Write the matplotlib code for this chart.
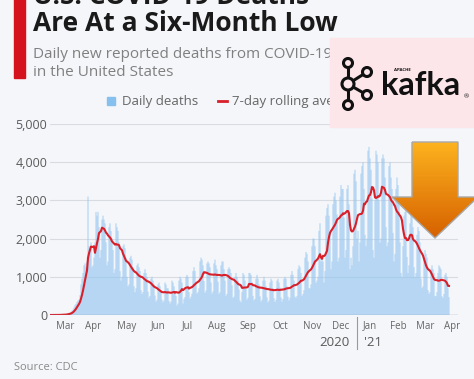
import numpy as np
import pandas as pd
import matplotlib.pyplot as plt
from matplotlib.patches import Rectangle, Circle, Polygon

plt.rcParams['font.family'] = ['Open Sans', 'DejaVu Sans']

## Data: daily new reported deaths, one row per week (Sun..Sat), from Sun 1 Mar 2020
daily_deaths = [
    0, 0, 1, 0, 1, 2, 1,
    2, 4, 5, 7, 9, 10, 12,
    14, 18, 26, 40, 50, 60, 70,
    110, 140, 200, 260, 290, 340, 380,
    400, 520, 800, 950, 1100, 1300, 1350,
    1250, 1400, 3100, 1800, 1750, 1900, 1250,
    1300, 1500, 1900, 2700, 2600, 2700, 2300,
    1500, 1700, 2500, 2600, 2500, 2400, 1900,
    1300, 1400, 2300, 2400, 2200, 2000, 1700,
    1100, 1200, 2400, 2300, 2200, 1900, 1150,
    900, 1000, 1800, 1850, 1750, 1500, 1000,
    750, 800, 1500, 1550, 1450, 1250, 750,
    600, 700, 1300, 1350, 1250, 1150, 650,
    550, 600, 1100, 1200, 1100, 1000, 610,
    450, 500, 950, 1000, 900, 800, 510,
    350, 400, 800, 850, 750, 650, 400,
    330, 380, 850, 800, 700, 700, 370,
    300, 350, 900, 850, 750, 550, 500,
    250, 300, 900, 1000, 950, 850, 300,
    420, 470, 1000, 1050, 1000, 600, 430,
    480, 560, 1150, 1250, 1150, 800, 560,
    600, 700, 1400, 1500, 1450, 1300, 890,
    580, 640, 1350, 1400, 1350, 1250, 850,
    560, 620, 1350, 1450, 1300, 1200, 870,
    550, 600, 1300, 1400, 1400, 1200, 900,
    500, 550, 1200, 1250, 1200, 1100, 780,
    450, 480, 1000, 1100, 1000, 900, 670,
    380, 330, 600, 1100, 1050, 900, 680,
    400, 450, 1100, 1100, 1050, 860, 500,
    380, 420, 950, 1050, 950, 800, 490,
    350, 400, 900, 1000, 900, 750, 460,
    330, 380, 850, 950, 900, 700, 440,
    340, 400, 900, 950, 850, 720, 460,
    350, 420, 950, 1000, 950, 750, 480,
    380, 450, 1050, 1150, 1050, 900, 480,
    450, 500, 1200, 1300, 1250, 1100, 500,
    550, 650, 1500, 1650, 1600, 1400, 700,
    700, 800, 1800, 2000, 2000, 1800, 840,
    900, 1000, 2200, 2400, 1400, 1550, 1400,
    850, 1150, 2600, 2800, 2900, 2600, 2150,
    1200, 1400, 2900, 3100, 3200, 3000, 2630,
    1400, 1500, 3100, 3400, 3300, 3300, 2550,
    1500, 1700, 3300, 3400, 2900, 1200, 1500,
    1300, 1800, 3700, 3800, 3500, 2000, 2200,
    1400, 1900, 3700, 3900, 4000, 3300, 2100,
    1800, 2000, 4300, 4400, 4100, 3800, 3050,
    1700, 1500, 3000, 4300, 4200, 4000, 3000,
    1900, 2000, 4100, 4200, 4100, 3600, 2300,
    1800, 1900, 3900, 4000, 3600, 3300, 2150,
    1400, 1600, 3300, 3600, 3400, 3000, 1900,
    1100, 1000, 1800, 2600, 2700, 3000, 1520,
    1100, 1300, 2400, 2700, 2600, 2300, 1250,
    1000, 1100, 2100, 2300, 2200, 1900, 950,
    700, 750, 1500, 1700, 1600, 1500, 650,
    550, 600, 1200, 1300, 1200, 1100, 490,
    500, 600, 1100, 1300, 1250, 1200, 490,
    450, 550, 1050, 1100, 1000, 700, 470,
]
month_labels = ['Mar', 'Apr', 'May', 'Jun', 'Jul', 'Aug', 'Sep', 'Oct',
                'Nov', 'Dec', 'Jan', 'Feb', 'Mar', 'Apr']
y_ticks = [0, 1000, 2000, 3000, 4000, 5000]

deaths = pd.Series(daily_deaths, dtype=float)
days = np.arange(len(deaths))
rolling = deaths.rolling(7, min_periods=1).mean()

## Figure
W, H = 474, 379
fig = plt.figure(figsize=(W / 100, H / 100), dpi=100)
bg = '#f4f6f9'
fig.patch.set_facecolor(bg)

ax = fig.add_axes([50 / W, (H - 315) / H, 408 / W, 191 / H], zorder=1)
ax.set_facecolor(bg)
# snap=False so the sub-pixel wide bars are not rounded away
ax.bar(days, deaths, width=0.8, color='#94c6f1', linewidth=0, snap=False, zorder=2)
ax.plot(days, rolling, color='#d9202a', lw=1.5, zorder=3)

ax.set_xlim(-1, 407)
ax.set_ylim(0, 5000)
ax.set_yticks(y_ticks)
ax.set_yticklabels([f'{v:,}' for v in y_ticks])
ax.grid(axis='y', color='#d8dce2', lw=0.8, zorder=0)
ax.axhline(0, color='#7f93a8', lw=0.9, zorder=4)
# month labels sit roughly mid-month
ax.set_xticks([14, 42, 76, 107, 136, 166, 197, 229, 261, 290, 319, 347, 374, 401])
ax.set_xticklabels(month_labels)
ax.tick_params(axis='x', length=0, pad=4, labelsize=7, labelcolor='#666666')
ax.tick_params(axis='y', length=0, pad=2, labelsize=9, labelcolor='#5a5a5a')
for s in ax.spines.values():
    s.set_visible(False)

## Overlay in pixel coordinates for titles and decorations
ov = fig.add_axes([0, 0, 1, 1], zorder=3)
ov.set_xlim(0, W)
ov.set_ylim(H, 0)
ov.axis('off')
ov.patch.set_alpha(0)

ov.add_patch(Rectangle((14, -2), 11, 80, color='#d5131f'))
ov.text(33, 4, 'U.S. COVID-19 Deaths', fontsize=19, fontweight='bold',
        color='#1a1a1a', va='baseline')
ov.text(33, 31, 'Are At a Six-Month Low', fontsize=19, fontweight='bold',
        color='#1a1a1a', va='baseline')
ov.text(33, 54, 'Daily new reported deaths from COVID-19', fontsize=11,
        color='#808080', va='center')
ov.text(33, 72, 'in the United States', fontsize=11, color='#808080', va='center')

# legend
ov.add_patch(Rectangle((107, 97), 8, 8, color='#86c0ef'))
ov.text(122, 101, 'Daily deaths', fontsize=9.5, color='#666666', va='center')
ov.plot([218, 227], [101, 101], color='#d9202a', lw=2)
ov.text(232, 101, '7-day rolling average', fontsize=9.5, color='#666666', va='center')

# year labels
ov.plot([357, 357], [317, 349], color='#9a9a9a', lw=0.8)
ov.text(350, 342, '2020', fontsize=9.5, color='#5a5a5a', ha='right', va='center')
ov.text(364, 342, "'21", fontsize=9.5, color='#5a5a5a', ha='left', va='center')
ov.text(14, 368, 'Source: CDC', fontsize=8, color='#8a8a8a', va='center')

# kafka logo box
ov.add_patch(Rectangle((330, 38), 150, 89, color='#fce6ea', zorder=5))
nodes = {'top': (348, 63), 'mid': (348, 84), 'bot': (348, 105),
         'ru': (367, 72), 'rd': (367, 95)}
for a, b in [('top', 'mid'), ('mid', 'bot'), ('mid', 'ru'), ('mid', 'rd')]:
    ov.plot([nodes[a][0], nodes[b][0]], [nodes[a][1], nodes[b][1]],
            color='#111111', lw=2.2, zorder=6)
for k, (cx, cy) in nodes.items():
    r = 6 if k == 'mid' else 4.5
    ov.add_patch(Circle((cx, cy), r, facecolor='#fce6ea', edgecolor='#111111',
                        lw=2.2, zorder=7))
ov.text(381, 95, 'kafka', fontsize=23.5, fontweight='bold', family='Lato',
        color='#111111', va='baseline', zorder=7)
ov.text(394, 70, 'APACHE', fontsize=3.2, fontweight='bold', color='#111111',
        va='center', zorder=7)
ov.text(466, 97, '®', fontsize=4.5, color='#111111', va='center', ha='center', zorder=7)

# orange arrow
arrow = Polygon([(412, 142), (458, 142), (458, 197), (478, 197), (435, 238),
                 (392, 197), (412, 197)], closed=True, facecolor='none',
                edgecolor='#a8a8a8', lw=1.0, zorder=9)
ov.add_patch(arrow)
t = np.linspace(0, 1, 100)[:, None]
grad = np.dstack([np.full((100, 60), 0.99) - 0.15 * t,
                  0.70 - 0.32 * t * np.ones((1, 60)),
                  0.12 - 0.12 * t * np.ones((1, 60))])
im = ov.imshow(grad, extent=(388, 478, 238, 142), aspect='auto', zorder=8)
im.set_clip_path(arrow)
ov.set_xlim(0, W)
ov.set_ylim(H, 0)

fig.savefig('out.png', dpi=100, facecolor=bg)
